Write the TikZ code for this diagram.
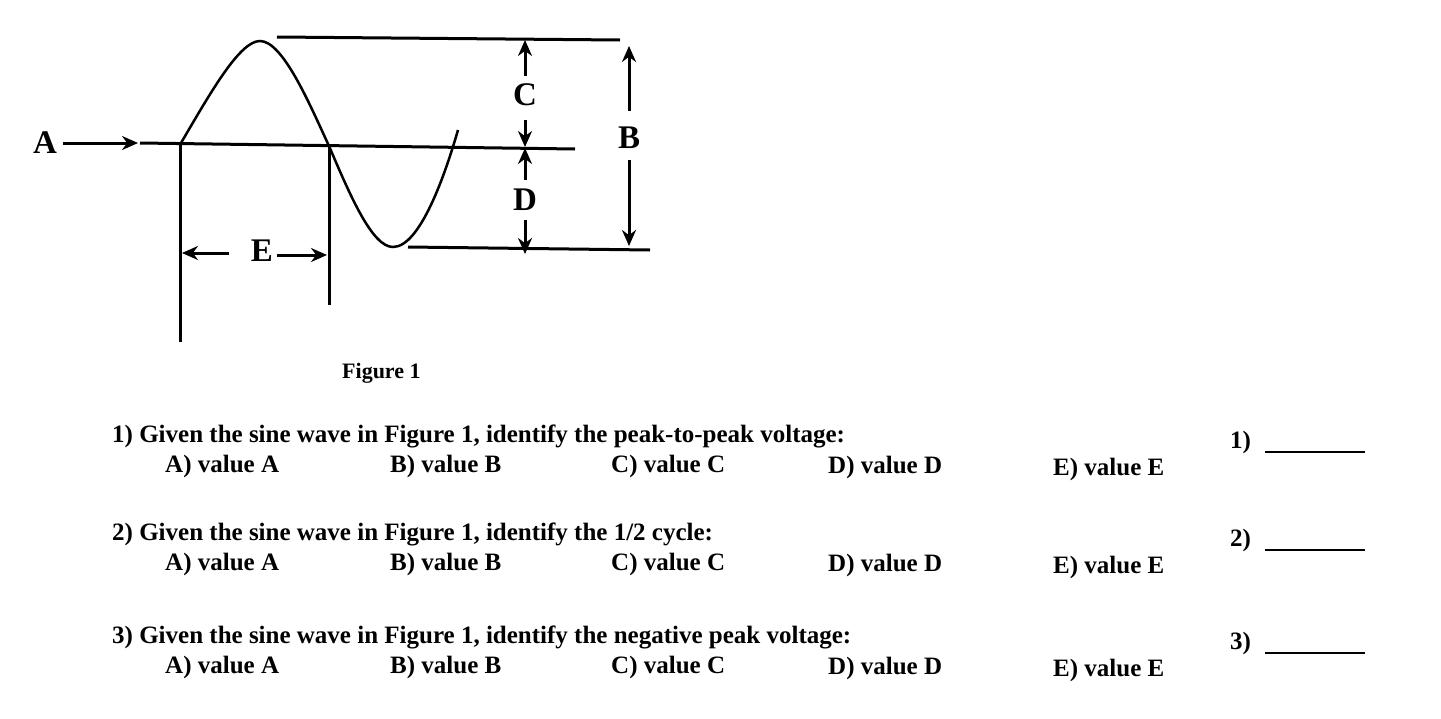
\documentclass[tikz,border=0pt]{standalone}
\usepackage{fontspec}
\setmainfont{Liberation Serif}
\usetikzlibrary{arrows.meta}
\begin{document}
\begin{tikzpicture}[x=1pt,y=-1pt,
  ln/.style={line width=3pt},
  ar/.style={line width=3pt,-{Stealth[length=16pt,width=14pt]}},
  big/.style={font=\bfseries\fontsize{33}{34}\selectfont,inner sep=0pt},
  q/.style={font=\bfseries\fontsize{25}{27}\selectfont,anchor=base west,inner sep=0pt}]
\useasboundingbox (0,0) rectangle (1441,718);
% figure
\node[big] (A) at (45,143) {A};
\coordinate (a1) at (63,143); \coordinate (a2) at (138,143);
\draw[ar] (a1) -- (a2);
\coordinate (ax1) at (140,143); \coordinate (ax2) at (575,149);
\draw[ln] (ax1) -- (ax2);
\draw[line width=2.5pt] (181,143) .. controls (212,90) and (240,41) .. (260,41)
  .. controls (283,41) and (310,105) .. (329,146)
  .. controls (350,195) and (372,247) .. (393,247)
  .. controls (420,247) and (445,175) .. (458,130);
\coordinate (t1) at (277,37); \coordinate (t2) at (620,40);
\draw[ln] (t1) -- (t2);
\coordinate (b1) at (408,247); \coordinate (b2) at (650,250);
\draw[ln] (b1) -- (b2);
\coordinate (v1a) at (180,142); \coordinate (v1b) at (180,342);
\draw[ln] (v1a) -- (v1b);
\coordinate (v2a) at (329,146); \coordinate (v2b) at (329,305);
\draw[ln] (v2a) -- (v2b);
\node[big] (E) at (262,251) {E};
\coordinate (e1) at (229,253); \coordinate (e2) at (182,253);
\coordinate (e3) at (277,255); \coordinate (e4) at (327,255);
\draw[ar] (e1) -- (e2); \draw[ar] (e3) -- (e4);
\node[big] (C) at (525,95) {C};
\coordinate (c1) at (525,76); \coordinate (c2) at (525,40);
\coordinate (c3) at (525,120); \coordinate (c4) at (525,147);
\draw[ar] (c1) -- (c2); \draw[ar] (c3) -- (c4);
\node[big] (D) at (525,200) {D};
\coordinate (d1) at (525,180); \coordinate (d2) at (525,148);
\coordinate (d3) at (525,220); \coordinate (d4) at (525,254);
\draw[ar] (d1) -- (d2); \draw[ar] (d3) -- (d4);
\node[big] (B) at (629,138) {B};
\coordinate (bb1) at (629,111); \coordinate (bb2) at (629,46);
\coordinate (bb3) at (629,160); \coordinate (bb4) at (629,246);
\draw[ar] (bb1) -- (bb2); \draw[ar] (bb3) -- (bb4);
\node[q,font=\bfseries\fontsize{22}{24}\selectfont] (fig) at (342,378) {Figure 1};
% questions
\foreach \n/\y/\t in {1/442/{the peak-to-peak voltage:},2/540/{the 1/2 cycle:},3/643/{the negative peak voltage:}}{
  \node[q] (q\n) at (112,\y) {\n) Given the sine wave in Figure 1, identify \t};
  \node[q] (oa\n) at (165,\y+30) {A) value A};
  \node[q] (ob\n) at (390,\y+30) {B) value B};
  \node[q] (oc\n) at (611,\y+30) {C) value C};
  \node[q] (od\n) at (828,\y+31) {D) value D};
  \node[q] (oe\n) at (1053,\y+33) {E) value E};
  \node[q] (r\n) at (1230,\y+6) {\n)};
  \coordinate (u\n a) at (1265,\y+10); \coordinate (u\n b) at (1365,\y+10);
  \draw[line width=2pt] (u\n a) -- (u\n b);
}
\end{tikzpicture}
\end{document}
